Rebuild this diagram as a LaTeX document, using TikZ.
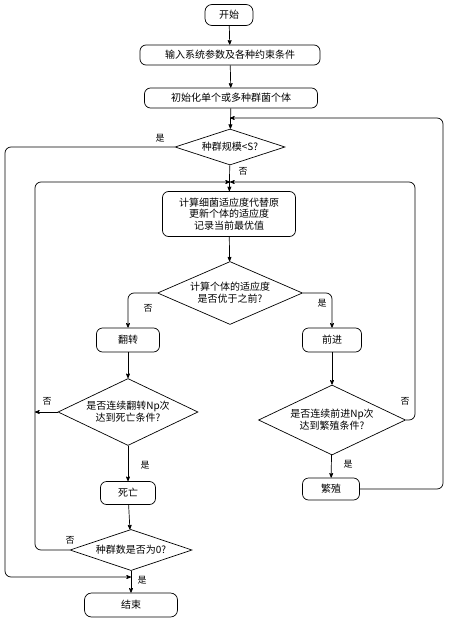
\documentclass[tikz,border=0pt]{standalone}
\usepackage{fontspec}
\setmainfont{Noto Sans CJK SC}
\usetikzlibrary{%
  arrows,%
  shapes.geometric,% wg. diamond
  positioning,%
  calc
}

\begin{document}
\begin{tikzpicture}
  [
  x=1pt, y=-1pt,
  font=\fontsize{10}{12}\selectfont, draw=black, >=stealth', line width=0.7pt,
  term/.style={rectangle, minimum height=21pt, draw=black, rounded corners=7pt, inner sep=2pt},
  proc/.style={rectangle, minimum height=20pt, draw=black, rounded corners=6pt, inner sep=2pt},
  decide/.style={diamond, draw=black, aspect=2.2, inner sep=0pt, align=center},
  tag/.style={font=\fontsize{9}{10}\selectfont, inner sep=1pt}
  ]

\useasboundingbox (0,0) rectangle (448,623);

% main column
\node[term, minimum width=48pt] (start) at (229,15) {开始};
\node[proc, minimum width=180pt] (input) at (230,55) {输入系统参数及各种约束条件};
\node[proc, minimum width=173pt] (init) at (231,98) {初始化单个或多种群菌个体};
\node[decide, minimum width=110pt, minimum height=36pt] (dsize) at (230,147) {种群规模<S?};
\node[proc, minimum width=133pt, minimum height=45pt, align=center, font=\fontsize{10}{11.5}\selectfont] (update) at (229,214) {计算细菌适应度代替原\\更新个体的适应度\\记录当前最优值};
\node[decide, minimum width=145pt, minimum height=63pt] (dfit) at (230,293) {计算个体的适应度\\是否优于之前?};

% left branch
\node[proc, minimum width=63pt, minimum height=24pt] (tumble) at (128,340) {翻转};
\node[decide, minimum width=140pt, minimum height=67pt] (dtumble) at (128,412) {是否连续翻转Np次\\达到死亡条件?};
\node[proc, minimum width=55pt, minimum height=23pt] (die) at (128,493) {死亡};
\node[decide, minimum width=122pt, minimum height=40pt] (dzero) at (131,550) {种群数是否为0?};
\node[term, minimum width=93pt, minimum height=24pt] (stop) at (131,605) {结束};

% right branch
\node[proc, minimum width=59pt, minimum height=24pt] (swim) at (332,340) {前进};
\node[decide, minimum width=147pt, minimum height=70pt] (dswim) at (332,420) {是否连续前进Np次\\达到繁殖条件?};
\node[proc, minimum width=57pt, minimum height=22pt] (repro) at (331,489) {繁殖};

% joints of the loops
\coordinate (jtop) at (230,118);
\coordinate (jmid) at (230,182);
\coordinate (jend) at (131,577);
\coordinate (rtop) at (443,118);
\coordinate (rmid) at (415,182);
\coordinate (lmid) at (35,182);
\coordinate (lfar) at (5,577);

\draw[->] (start) -- (input);
\draw[->] (input) -- (init);
\draw[->] (init) -- (dsize);
\draw[->] (dsize) -- (update);
\draw[->] (update) -- (dfit);

\draw[->, rounded corners=6pt] (dfit.west) -| (tumble.north);
\draw[->, rounded corners=6pt] (dfit.east) -| (swim.north);
\draw[->] (tumble) -- (dtumble);
\draw[->] (dtumble) -- (die);
\draw[->] (die) -- (dzero);
\draw[->] (dzero) -- (stop);
\draw[->] (swim) -- (dswim);
\draw[->] (dswim) -- (repro);

% loops
\draw[->, rounded corners=6pt] (repro.east) -| (rtop) -- (jtop);
\draw[->, rounded corners=6pt] (dswim.east) -| (rmid) -- (jmid);
\draw[->, rounded corners=6pt] (dzero.west) -| (lmid) -- (jmid);
\draw[->] (dtumble.west) -- (dtumble.west -| lmid);
\draw[->, rounded corners=6pt] (dsize.west) -| (lfar) -- (jend);

% labels
\node[tag] (ysize) at (160,138) {是};
\node[tag] (nsize) at (243,171) {否};
\node[tag] (nfit) at (148,308) {否};
\node[tag] (yfit) at (322,303) {是};
\node[tag] (ntumble) at (47,401) {否};
\node[tag] (ytumble) at (145,465) {是};
\node[tag] (nswim) at (405,401) {否};
\node[tag] (yswim) at (348,464) {是};
\node[tag] (nzero) at (70,540) {否};
\node[tag] (yzero) at (142,580) {是};

\end{tikzpicture}
\end{document}
